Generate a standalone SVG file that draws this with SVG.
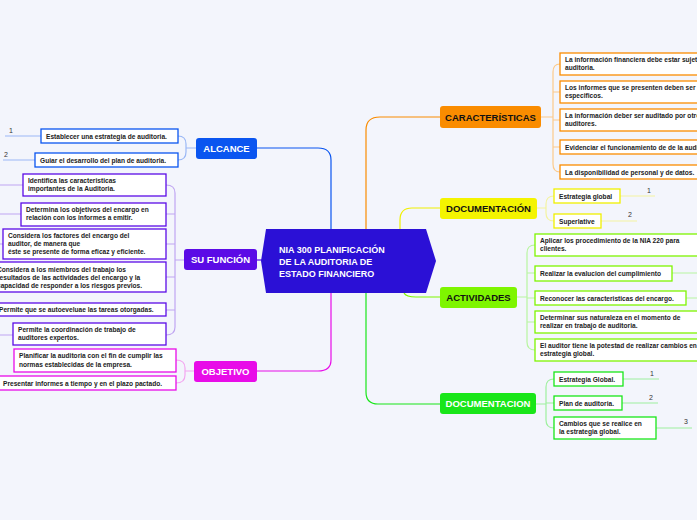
<svg xmlns="http://www.w3.org/2000/svg" width="697" height="520" viewBox="0 0 697 520">
<style>
text{font-family:"Liberation Sans",Arial,sans-serif;font-weight:bold}
.m{font-size:9.5px;fill:#fff;text-anchor:middle}
.mb{font-size:9.5px;fill:#111;text-anchor:middle}
.l{font-size:6.6px;fill:#222}
.n{font-size:7px;fill:#333;font-weight:normal}
.b{fill:#fff;stroke-width:1.3}
.c{fill:none;stroke-width:1.2}
</style>
<rect width="697" height="520" fill="#f3f5fc"/>
<g id="connectors">
<path class="c" stroke="#0a55f0" stroke-width="2" d="M331 229 V160 Q331 148 318 148 H257"/>
<path class="c" stroke="#5b0be6" stroke-width="2" d="M262 260 H257"/>
<path class="c" stroke="#e80ce8" stroke-width="2" d="M331 293 V360 Q331 371 318 371 H257"/>
<path class="c" stroke="#fa8c00" stroke-width="2" d="M366 229 V130 Q366 117 380 117 H440"/>
<path class="c" stroke="#f0f000" stroke-width="2" d="M400 229 V220 Q400 208 412 208 H440"/>
<path class="c" stroke="#7ef500" stroke-width="2" d="M404 293 Q406 297 416 297 H440"/>
<path class="c" stroke="#19e619" stroke-width="2" d="M366 293 V392 Q366 404 378 404 H440"/>
<g stroke="#9bb8f5" class="c"><path d="M196 148 H186 M178 136 Q186 136 186 144 V152 Q186 160 178 160"/><path d="M41 136 H5 M35 160 H3"/></g>
<g stroke="#c0a6f2" class="c"><path d="M184 260 H175 M166 185 Q175 185 175 193 V327 Q175 335 166 335 M166 214 H175 M166 244 H175 M166 277 H175 M166 310 H175"/><path d="M23 185 H0 M21 214 H0 M3 244 H0 M13 335 H0"/></g>
<g stroke="#f3a6f0" class="c"><path d="M194 371 H185 M176 360 Q185 360 185 368 V375 Q185 383 176 383"/></g>
<g stroke="#fcca8a" class="c"><path d="M541 117 H553 M560 64 Q553 64 553 72 V164 Q553 172 560 172 M560 92 H553 M560 120 H553 M560 147 H553"/></g>
<g stroke="#f3f3a0" class="c"><path d="M537 208 H546 M554 196 Q546 196 546 204 V213 Q546 221 554 221"/><path d="M620 196 H655 M601 221 H637"/></g>
<g stroke="#b8f5a0" class="c"><path d="M517 297 H527 M535 245 Q527 245 527 253 V342 Q527 350 535 350 M535 273 H527 M535 298 H527 M535 322 H527"/><path d="M672 273 H697 M686 298 H697"/></g>
<g stroke="#9ef09e" class="c"><path d="M536 404 H546 M554 379 Q546 379 546 387 V420 Q546 428 554 428 M554 403 H546"/><path d="M623 379 H659 M622 403 H658 M656 428 H692"/></g>
</g>
<g id="center"><polygon points="266,229 426,229 436,261 426,293 266,293 261,261" fill="#2b10d6"/>
<text class="m" style="text-anchor:start;font-size:9px" x="279" y="253">NIA 300 PLANIFICACIÓN</text>
<text class="m" style="text-anchor:start;font-size:9px" x="279" y="265">DE LA AUDITORIA DE</text>
<text class="m" style="text-anchor:start;font-size:9px" x="279" y="277">ESTADO FINANCIERO</text></g>
<g id="alcance"><rect x="196" y="138" width="61" height="21" rx="3" fill="#0a55f0"/><text class="m" x="226.5" y="152">ALCANCE</text></g>
<g id="sufuncion"><rect x="184" y="249" width="73" height="21" rx="3" fill="#5b0be6"/><text class="m" x="220.5" y="263">SU FUNCIÓN</text></g>
<g id="objetivo"><rect x="194" y="361" width="63" height="21" rx="3" fill="#e80ce8"/><text class="m" x="225.5" y="375">OBJETIVO</text></g>
<g id="caracteristicas"><rect x="440" y="106" width="101" height="22" rx="3" fill="#fa8c00"/><text class="mb" x="490.5" y="120.5">CARACTERÍSTICAS</text></g>
<g id="documentacion1"><rect x="440" y="198" width="97" height="21" rx="3" fill="#f4f400"/><text class="mb" x="488.5" y="212">DOCUMENTACIÓN</text></g>
<g id="actividades"><rect x="440" y="287" width="77" height="21" rx="3" fill="#7ef500"/><text class="mb" x="478.5" y="301">ACTIVIDADES</text></g>
<g id="documentacion2"><rect x="440" y="393" width="96" height="21" rx="3" fill="#19e619"/><text class="m" x="488" y="407">DOCUMENTACION</text></g>
<g id="alc-leaves" stroke="#0a55f0">
<rect class="b" x="41" y="129" width="137" height="14"/><text class="l" stroke="none" x="46" y="138.5">Establecer una estrategia de auditoria.</text>
<rect class="b" x="35" y="153" width="143" height="14"/><text class="l" stroke="none" x="40" y="162.5">Guiar el desarrollo del plan de auditoria.</text>
<text class="n" stroke="none" x="9" y="133">1</text><text class="n" stroke="none" x="4" y="157">2</text></g>
<g id="fun-leaves" stroke="#5b0be6">
<rect class="b" x="23" y="174" width="143" height="22"/><text class="l" stroke="none" x="28" y="183">Identifica las caracteristicas</text><text class="l" stroke="none" x="28" y="191">importantes de la Auditoria.</text>
<rect class="b" x="21" y="203" width="145" height="23"/><text class="l" stroke="none" x="26" y="212">Determina los objetivos del encargo en</text><text class="l" stroke="none" x="26" y="220">relación con los informes a emitir.</text>
<rect class="b" x="3" y="229" width="163" height="30"/><text class="l" stroke="none" x="8" y="238">Considera los factores del encargo del</text><text class="l" stroke="none" x="8" y="246">auditor, de manera que</text><text class="l" stroke="none" x="8" y="254"> éste se presente de forma eficaz y eficiente.</text>
<rect class="b" x="-5" y="262" width="171" height="30"/><text class="l" stroke="none" x="-3" y="272">Considera a los miembros del trabajo los</text><text class="l" stroke="none" x="-3" y="280">resultados de las actividades  del encargo y la</text><text class="l" stroke="none" x="-3" y="288">capacidad de  responder a los riesgos previos.</text>
<rect class="b" x="-5" y="303" width="171" height="13"/><text class="l" stroke="none" x="-1" y="312">Permite que se autoeveluae las tareas otorgadas.</text>
<rect class="b" x="13" y="323" width="153" height="22"/><text class="l" stroke="none" x="18" y="332">Permite la coordinación de trabajo de</text><text class="l" stroke="none" x="18" y="340">auditores expertos.</text></g>
<g id="obj-leaves" stroke="#e80ce8">
<rect class="b" x="14" y="349" width="162" height="23"/><text class="l" stroke="none" x="19" y="358">Planificar la auditoria con el fin de cumplir las</text><text class="l" stroke="none" x="19" y="367">normas establecidas de la empresa.</text>
<rect class="b" x="-3" y="376" width="179" height="14"/><text class="l" stroke="none" x="3" y="385.5">Presentar informes a tiempo y en el plazo pactado.</text></g>
<g id="car-leaves" stroke="#fa8c00">
<rect class="b" x="560" y="53" width="145" height="22"/><text class="l" stroke="none" x="565" y="62">La información financiera debe estar sujeta a</text><text class="l" stroke="none" x="565" y="70">auditoria.</text>
<rect class="b" x="560" y="81" width="145" height="22"/><text class="l" stroke="none" x="565" y="90">Los informes que se presenten deben ser</text><text class="l" stroke="none" x="565" y="98">especificos.</text>
<rect class="b" x="560" y="109" width="145" height="22"/><text class="l" stroke="none" x="565" y="118">La información deber ser auditado por otros</text><text class="l" stroke="none" x="565" y="126">auditores.</text>
<rect class="b" x="560" y="140" width="145" height="14"/><text class="l" stroke="none" x="565" y="149.5">Evidenciar el funcionamiento de de la auditoria.</text>
<rect class="b" x="560" y="165" width="145" height="14"/><text class="l" stroke="none" x="565" y="174.5">La disponibilidad de personal y de datos.</text></g>
<g id="doc1-leaves" stroke="#f0f000">
<rect class="b" x="554" y="189" width="66" height="14"/><text class="l" stroke="none" x="559" y="198.5">Estrategia global</text>
<rect class="b" x="554" y="214" width="47" height="14"/><text class="l" stroke="none" x="559" y="223.5">Superlative</text>
<text class="n" stroke="none" x="647" y="193">1</text><text class="n" stroke="none" x="628" y="217">2</text></g>
<g id="act-leaves" stroke="#7ef500">
<rect class="b" x="535" y="234" width="165" height="22"/><text class="l" stroke="none" x="540" y="243">Aplicar los procedimiento de la NIA 220 para</text><text class="l" stroke="none" x="540" y="251">clientes.</text>
<rect class="b" x="535" y="266" width="137" height="15"/><text class="l" stroke="none" x="540" y="276">Realizar la evalucion del cumplimiento</text>
<rect class="b" x="535" y="291" width="151" height="14"/><text class="l" stroke="none" x="540" y="300.5">Reconocer las caracteristicas del encargo.</text>
<rect class="b" x="535" y="311" width="165" height="22"/><text class="l" stroke="none" x="540" y="320">Determinar sus naturaleza en el momento de</text><text class="l" stroke="none" x="540" y="328">realizar en trabajo de auditoria.</text>
<rect class="b" x="535" y="339" width="165" height="22"/><text class="l" stroke="none" x="540" y="348">El auditor tiene la potestad de realizar cambios en la</text><text class="l" stroke="none" x="540" y="356">estrategia global.</text></g>
<g id="doc2-leaves" stroke="#19e619">
<rect class="b" x="554" y="372" width="69" height="14"/><text class="l" stroke="none" x="559" y="381.5">Estrategia Global.</text>
<rect class="b" x="554" y="396" width="68" height="14"/><text class="l" stroke="none" x="559" y="405.5">Plan de auditoria.</text>
<rect class="b" x="554" y="417" width="102" height="22"/><text class="l" stroke="none" x="559" y="426">Cambios que se realice en</text><text class="l" stroke="none" x="559" y="434">la estrategia global.</text>
<text class="n" stroke="none" x="650" y="376">1</text><text class="n" stroke="none" x="649" y="400">2</text><text class="n" stroke="none" x="684" y="424">3</text></g>
</svg>
